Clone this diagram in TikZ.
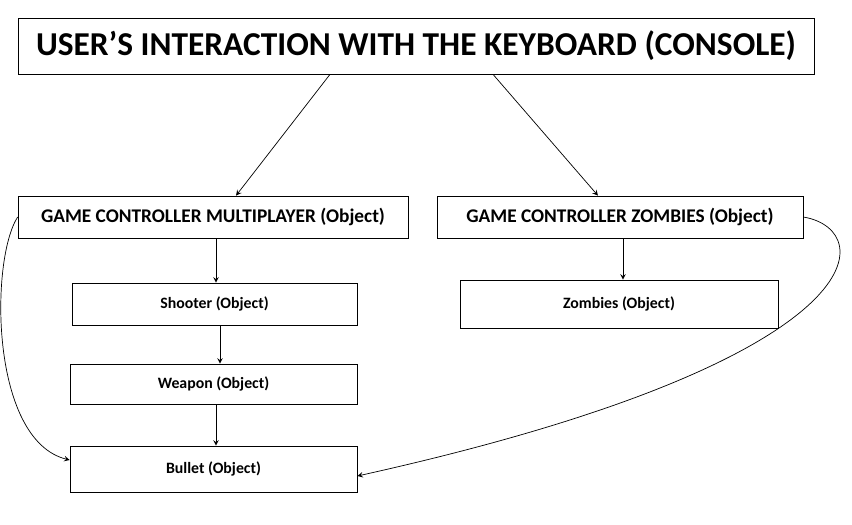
\documentclass[tikz,border=0pt]{standalone}
\usepackage{fontspec}
\setmainfont{Carlito}
\usetikzlibrary{arrows,positioning}
\tikzstyle{block} = [rectangle, draw, inner sep=0pt, font=\bfseries]
\tikzstyle{line} = [draw, -stealth]
\begin{document}
\begin{tikzpicture}
    \useasboundingbox (0,0) rectangle (17.04,-10.48);
    % Place nodes
    \node [block, minimum width=15.92cm, minimum height=1.12cm, font=\bfseries\fontsize{19}{22}\selectfont] (usr) at (8.32,-0.92) {USER’S INTERACTION WITH THE KEYBOARD (CONSOLE)};
    \node [block, minimum width=7.8cm, minimum height=0.84cm, font=\bfseries\fontsize{11}{13}\selectfont] (gcm) at (4.26,-4.34) {GAME CONTROLLER MULTIPLAYER (Object)};
    \node [block, minimum width=7.32cm, minimum height=0.84cm, font=\bfseries\fontsize{11}{13}\selectfont] (gcz) at (12.4,-4.34) {GAME CONTROLLER ZOMBIES (Object)};
    \node [block, minimum width=5.7cm, minimum height=0.84cm, font=\bfseries\fontsize{9}{11}\selectfont] (sht) at (4.29,-6.08) {Shooter (Object)};
    \node [block, minimum width=6.36cm, minimum height=0.96cm, font=\bfseries\fontsize{9}{11}\selectfont] (zmb) at (12.38,-6.08) {Zombies (Object)};
    \node [block, minimum width=5.74cm, minimum height=0.8cm, font=\bfseries\fontsize{9}{11}\selectfont] (wpn) at (4.27,-7.68) {Weapon (Object)};
    \node [block, minimum width=5.74cm, minimum height=0.92cm, font=\bfseries\fontsize{9}{11}\selectfont] (blt) at (4.27,-9.38) {Bullet (Object)};
    \draw [line] (usr.south -| 6.6,0) -- (gcm.north -| 4.72,0);
    \draw [line] (usr.south -| 9.86,0) -- (gcz.north -| 11.96,0);
    \draw [line] (gcm.south -| 4.32,0) -- (sht.north -| 4.32,0);
    \draw [line] (sht.south -| 4.4,0) -- (wpn.north -| 4.4,0);
    \draw [line] (wpn.south -| 4.32,0) -- (blt.north -| 4.32,0);
    \draw [line] (gcz.south -| 12.46,0) -- (zmb.north -| 12.46,0);
    \draw [line] (gcm.west) .. controls (-0.2,-5.2) and (-0.2,-8.8) .. ([yshift=0.18cm]blt.west);
    \draw [line] (gcz.east) .. controls (17.6,-4.6) and (17.6,-7.2) .. ([yshift=-0.14cm]blt.east);
\end{tikzpicture}
\end{document}
